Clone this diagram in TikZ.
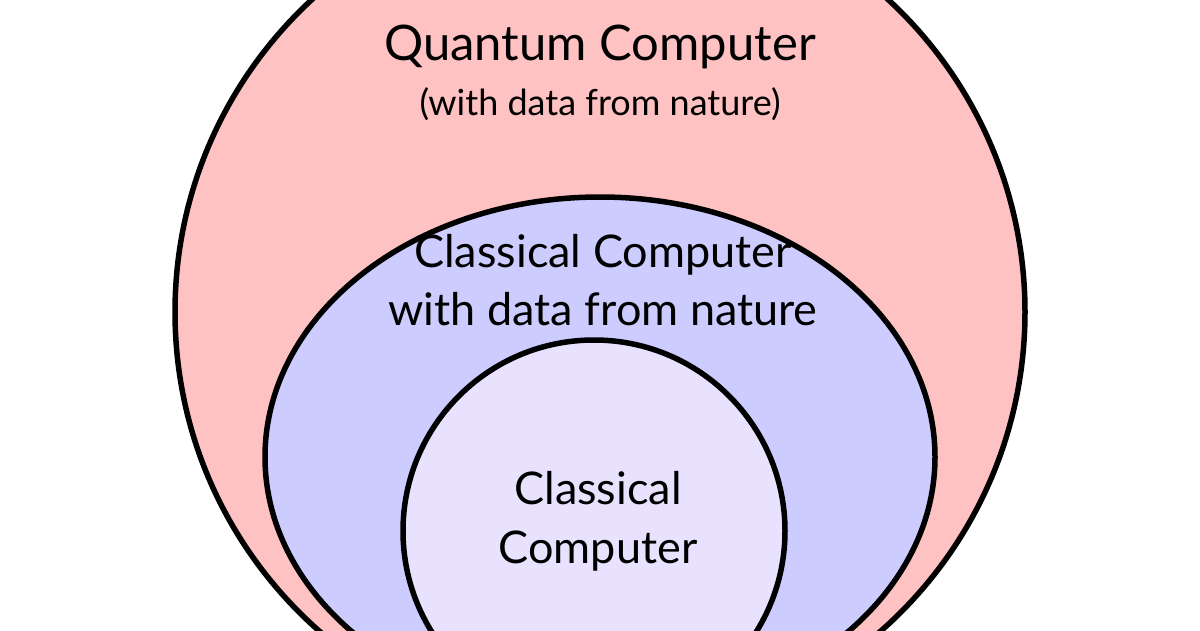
\documentclass[tikz,border=0pt]{standalone}
\usepackage{fontspec}
\setmainfont{Lato}
\begin{document}
\begin{tikzpicture}[x=1pt,y=1pt,
  ring/.style={draw=black,line width=5.5pt},
  lbl/.style={align=center,inner sep=0pt}]
\useasboundingbox (0,0) rectangle (1200,-630);
\begin{scope}
\clip (0,0) rectangle (1200,-630);
\fill[white] (0,0) rectangle (1200,-630);
\draw[ring,fill={rgb,255:red,255;green,194;blue,194}] (600,-312) ellipse [x radius=425,y radius=425];
\draw[ring,fill={rgb,255:red,204;green,204;blue,255}] (600,-457) ellipse [x radius=335,y radius=260];
\draw[ring,fill={rgb,255:red,232;green,226;blue,255}] (594,-531) circle [radius=191];
\end{scope}
\node[lbl,font=\fontsize{49}{58}\selectfont] (q) at (600,-47) {Quantum Computer};
\node[lbl,font=\fontsize{36}{43}\selectfont] (qs) at (600,-104) {(with data from nature)};
\node[lbl,font=\fontsize{45}{58}\selectfont] (c) at (603,-280) {Classical Computer\\with data from nature};
\node[lbl,font=\fontsize{45}{59}\selectfont] (cc) at (598,-521) {Classical\\Computer};
\end{tikzpicture}
\end{document}
